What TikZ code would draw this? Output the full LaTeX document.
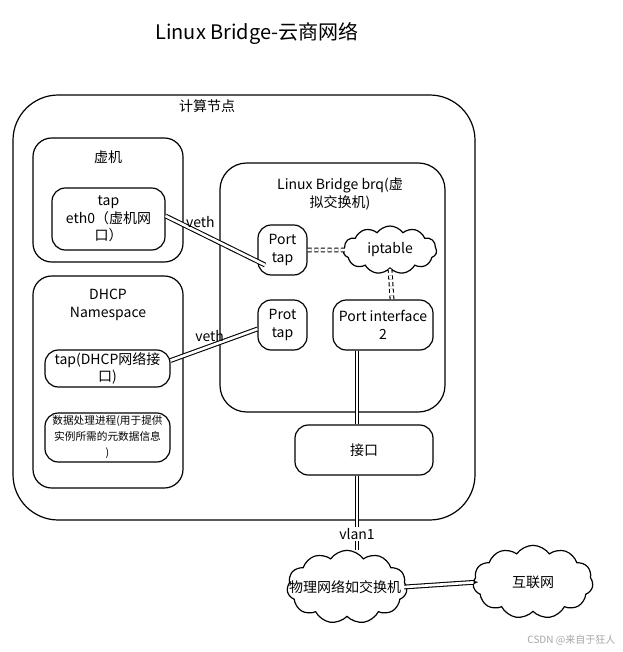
\documentclass[tikz,border=0pt]{standalone}
\usepackage{fontspec}
\setmainfont{Noto Sans CJK SC}
\usetikzlibrary{shapes.symbols,arrows.meta}
\begin{document}
\begin{tikzpicture}[x=0.75pt,y=-0.75pt,
  box/.style 2 args={draw,line width=0.9pt,rounded corners=10pt,minimum width=#1*0.75pt,minimum height=#2*0.75pt,align=center,inner sep=1pt},
  lbl/.style={align=center,font=\fontsize{10.5pt}{13pt}\selectfont},
  cl/.style={draw,line width=0.9pt,cloud,cloud puffs=11,cloud puff arc=110,aspect=1.6,inner sep=0pt,align=center,font=\fontsize{10.5pt}{13pt}\selectfont},
  dl/.style={draw,double,double distance=2pt,line width=0.8pt},
  ddl/.style={dl,dash pattern=on 3pt off 2pt}]
\useasboundingbox (0,0) rectangle (622,652);
\fill[white] (0,0) rectangle (622,652);
\node[lbl,font=\fontsize{15pt}{18pt}\selectfont] (title) at (257,33) {Linux Bridge-云商网络};
\node[box={462}{425},rounded corners=34pt] (outer) at (244,307.5) {};
\node[lbl] (outerl) at (207,106) {计算节点};
\node[box={150}{124},rounded corners=14pt] (vm) at (108,200) {};
\node[lbl] (vml) at (108,157) {虚机};
\node[box={113}{62},lbl] (eth0) at (108.5,219) {tap\\eth0（虚机网\\口）};
\node[box={150}{212},rounded corners=14pt] (dhcp) at (108,382) {};
\node[lbl] (dhcpl) at (108,305) {DHCP\\Namespace};
\node[box={125}{37},lbl] (tapd) at (107.5,368.5) {tap(DHCP网络接\\口)};
\node[box={125}{49},lbl,font=\fontsize{8pt}{12pt}\selectfont] (data) at (107.5,437.5) {数据处理进程(用于提供\\实例所需的元数据信息\\)};
\node[box={225}{249},rounded corners=20pt] (lb) at (332.5,287.5) {};
\node[lbl] (lbl1) at (340,194) {Linux Bridge brq(虚\\拟交换机)};
\node[box={49}{50},lbl] (pt) at (282.5,250) {Port\\tap};
\node[box={49}{50},lbl] (prt) at (282.5,325) {Prot\\tap};
\node[box={100}{50},lbl] (pif) at (383,325) {Port interface\\2};
\node[cl,minimum width=70pt,minimum height=30pt] (ipt) at (390,250) {iptable};
\node[box={138}{50},lbl] (jk) at (364,450) {接口};
\node[cl,minimum width=90pt,minimum height=55pt] (phy) at (347,587) {};
\node[lbl] (phyl) at (345,587) {物理网络如交换机};
\node[cl,minimum width=90pt,minimum height=55pt] (net) at (533,582) {互联网};
\node[text=gray!70,font=\fontsize{7.5pt}{9pt}\selectfont,anchor=east] (wm) at (620,640) {CSDN @来自于狂人};
\coordinate (ptin) at (265,265);
\coordinate (phytop) at (357,550);
\draw[dl] ([yshift=3*0.75pt]eth0.east) -- node[lbl,above,pos=0.35] (v1) {veth} (ptin);
\draw[dl] ([yshift=8*0.75pt]tapd.east) -- node[lbl,above,pos=0.45] (v2) {veth} ([yshift=-4*0.75pt]prt.west);
\draw[ddl] (pt.east) -- ([xshift=3*0.75pt]ipt.west);
\draw[ddl] (ipt.south) -- ([xshift=9*0.75pt]pif.north);
\draw[dl] ([xshift=-26*0.75pt]pif.south) -- ([xshift=-7*0.75pt]jk.north);
\draw[dl] ([xshift=-7*0.75pt]jk.south) -- node[lbl,fill=white,pos=0.78,inner sep=1pt] (vl) {vlan1} (phytop);
\draw[dl,-{Latex[open,length=4pt]}] ([xshift=-3*0.75pt]phy.east) -- ([xshift=6*0.75pt]net.west);
\end{tikzpicture}
\end{document}
